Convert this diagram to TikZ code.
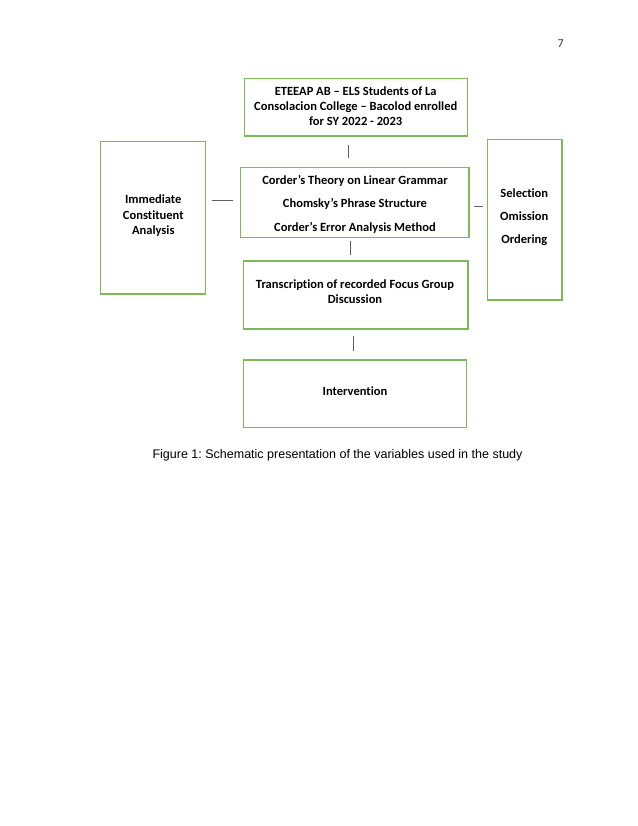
\documentclass[tikz,border=0pt]{standalone}
\usepackage{fontspec}
\setmainfont{Carlito}[Ligatures={NoCommon}]
\newfontfamily\arialf{Liberation Sans}
\usetikzlibrary{fit}
\definecolor{boxgreen}{RGB}{125,185,85}
\definecolor{linkgray}{RGB}{95,95,95}
\frenchspacing
\begin{document}
\begin{tikzpicture}[x=0.9592pt,y=-0.9592pt,
  box/.style={draw=boxgreen,line width=1.1pt,inner sep=0pt},
  txt/.style={align=center,font=\fontsize{12}{14.6}\selectfont\bfseries,inner sep=0pt},
  link/.style={draw=linkgray,line width=0.7pt}]
\useasboundingbox (0,0) rectangle (638,826);
\node[font=\fontsize{11.5}{13}\selectfont,text=black!80] (pg) at (560.7,44) {7};
% boxes
\node[box,fit={(244.3,78.3) (467.7,136)}] (top) {};
\node[box,fit={(100.7,141.7) (205.7,294)}] (left) {};
\node[box,fit={(240.7,167.7) (469,237.7)}] (mid) {};
\node[box,fit={(487.7,139.3) (562,300)}] (right) {};
\node[box,fit={(243.3,261) (468,329)}] (trans) {};
\node[box,fit={(243.3,360) (466.7,427.7)}] (inter) {};
% texts
\node[txt] (toptxt) at (355.7,106.3) {ETEEAP AB -- ELS Students of La\\Consolacion College -- Bacolod enrolled\\for SY 2022 - 2023};
\node[txt] (lefttxt) at (153.3,215.8) {Immediate\\Constituent\\Analysis};
\node[txt] (midtxt) at (355,204.2) {Corder’s Theory on Linear Grammar\\[7.8pt]Chomsky’s Phrase Structure\\[7.8pt]Corder’s Error Analysis Method};
\node[txt] (righttxt) at (524.3,217.3) {Selection\\[7.8pt]Omission\\[7.8pt]Ordering};
\node[txt] (transtxt) at (355,292) {Transcription of recorded Focus Group\\Discussion};
\node[txt] (intertxt) at (355,391) {Intervention};
% connectors
\coordinate (c1a) at (348.7,145); \coordinate (c1b) at (348.7,157.7);
\coordinate (c2a) at (211.7,200.3); \coordinate (c2b) at (232.7,200.3);
\coordinate (c3a) at (474.3,206.7); \coordinate (c3b) at (483.3,206.7);
\coordinate (c4a) at (350.7,241); \coordinate (c4b) at (350.7,255);
\coordinate (c5a) at (353.3,336); \coordinate (c5b) at (353.3,350.7);
\draw[link] (c1a) -- (c1b);
\draw[link] (c2a) -- (c2b);
\draw[link] (c3a) -- (c3b);
\draw[link] (c4a) -- (c4b);
\draw[link] (c5a) -- (c5b);
% caption
\node[font=\arialf\fontsize{12}{14}\selectfont,inner sep=0pt] (cap) at (337.5,455) {Figure 1: Schematic presentation of the variables used in the study};
\end{tikzpicture}
\end{document}
